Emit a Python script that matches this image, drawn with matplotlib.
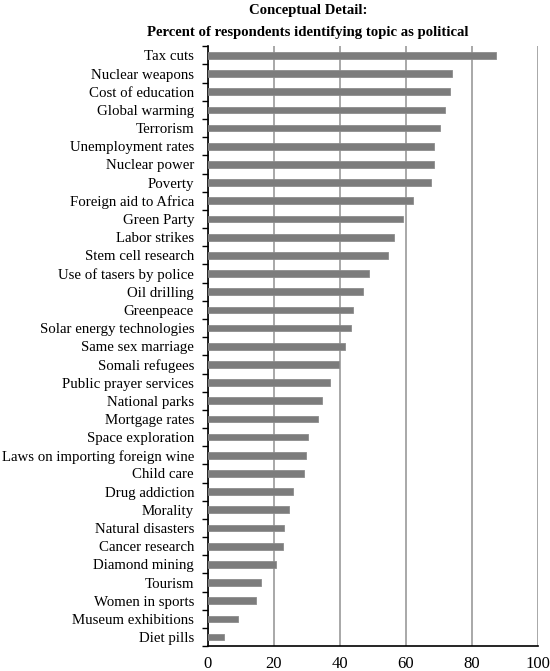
import matplotlib
matplotlib.use("Agg")
import matplotlib.pyplot as plt
import numpy as np

categories = ["Tax cuts", "Nuclear weapons", "Cost of education", "Global warming",
              "Terrorism", "Unemployment rates", "Nuclear power", "Poverty",
              "Foreign aid to Africa", "Green Party", "Labor strikes", "Stem cell research",
              "Use of tasers by police", "Oil drilling", "Greenpeace",
              "Solar energy technologies", "Same sex marriage", "Somali refugees",
              "Public prayer services", "National parks", "Mortgage rates",
              "Space exploration", "Laws on importing foreign wine", "Child care",
              "Drug addiction", "Morality", "Natural disasters", "Cancer research",
              "Diamond mining", "Tourism", "Women in sports", "Museum exhibitions",
              "Diet pills"]
values = [87.2, 74.1, 73.4, 71.9, 70.2, 68.5, 68.5, 67.7, 62.3, 59.1, 56.3, 54.6,
          48.7, 46.9, 43.9, 43.4, 41.5, 39.8, 37.1, 34.6, 33.3, 30.4, 29.6, 29.0,
          25.8, 24.7, 23.2, 22.7, 20.5, 16.0, 14.7, 9.2, 4.9]
x_ticks = [0, 20, 40, 60, 80, 100]

plt.rcParams['font.family'] = ['Liberation Serif', 'DejaVu Serif']

fig = plt.figure(figsize=(5.5, 6.71), dpi=100)
ax = fig.add_axes([0.378, 0.037, 0.600, 0.894])

n = len(categories)
y = np.arange(n)
ax.barh(y, values, height=0.37, color='#7c7c7c', edgecolor='#8c8c8c', linewidth=0.6, zorder=3)
ax.set_ylim(n - 0.5, -0.5)
ax.set_xlim(0, 100)
ax.set_xticks(x_ticks)
ax.set_xticklabels([str(t) for t in x_ticks], fontsize=12)
ax.set_yticks(y)
ax.set_yticklabels(categories, fontsize=10.7)
ax.tick_params(axis='y', which='major', length=0, pad=10)
ax.set_yticks(np.arange(-0.5, n, 1.0), minor=True)
ax.tick_params(axis='y', which='minor', length=4, width=1, direction='out', color='black')
ax.tick_params(axis='x', which='major', length=0, pad=7)

for s in ['top', 'right']:
    ax.spines[s].set_visible(False)
ax.spines['left'].set_linewidth(1.2)
ax.spines['bottom'].set_linewidth(1.2)

ax.grid(axis='x', color='#999999', linewidth=1.2, zorder=0)
ax.set_axisbelow(True)

fig.text(0.56, 0.984, "Conceptual Detail:", ha='center', va='center',
         fontsize=10.6, fontweight='bold')
fig.text(0.56, 0.952, "Percent of respondents identifying topic as political",
         ha='center', va='center', fontsize=10.6, fontweight='bold')

fig.savefig("out.png", dpi=100)
